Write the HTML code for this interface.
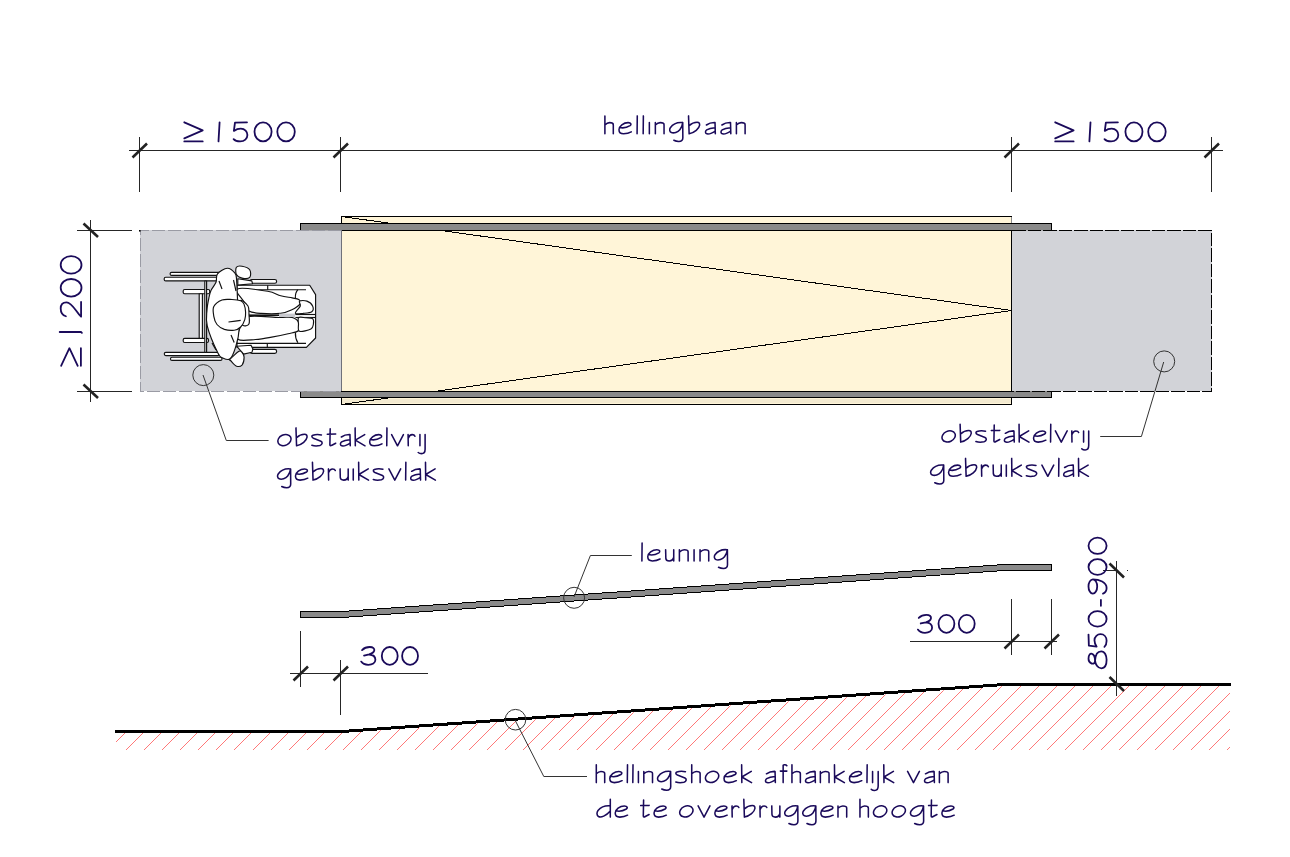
<!DOCTYPE html>
<html><head><meta charset="utf-8"><title>hellingbaan</title>
<style>
html,body{margin:0;padding:0;background:#fff;width:1290px;height:857px;overflow:hidden}
svg{display:block}
</style></head>
<body>
<svg width="1290" height="857" viewBox="0 0 1290 857">
<defs>
<clipPath id="hclip"><polygon points="116,733 342,733 1004,686 1230,686 1230,750 116,750"/></clipPath>
</defs>

<!-- ===== TOP DIMENSIONS ===== -->
<g stroke="#262626" stroke-width="1" fill="none" shape-rendering="crispEdges">
  <line x1="129" y1="150.5" x2="1223" y2="150.5"/>
  <line x1="139.5" y1="137" x2="139.5" y2="192"/>
  <line x1="340.5" y1="137" x2="340.5" y2="192"/>
  <line x1="1011.5" y1="137" x2="1011.5" y2="192"/>
  <line x1="1211.5" y1="137" x2="1211.5" y2="192"/>
</g>
<g stroke="#222" stroke-width="2.6" fill="none">
  <line x1="132.5" y1="157.5" x2="147" y2="143.5"/>
  <line x1="333.5" y1="157.5" x2="348" y2="143.5"/>
  <line x1="1004.5" y1="157.5" x2="1019" y2="143.5"/>
  <line x1="1204.5" y1="157.5" x2="1219" y2="143.5"/>
</g>

<!-- ===== LEFT VERTICAL DIMENSION ===== -->
<g stroke="#262626" stroke-width="1" fill="none" shape-rendering="crispEdges">
  <line x1="90.5" y1="220" x2="90.5" y2="402"/>
  <line x1="77" y1="230.5" x2="132" y2="230.5"/>
  <line x1="77" y1="391.5" x2="132" y2="391.5"/>
</g>
<g stroke="#222" stroke-width="2.6" fill="none">
  <line x1="83.5" y1="223.5" x2="98" y2="237"/>
  <line x1="83.5" y1="384.5" x2="98" y2="398"/>
</g>

<!-- ===== GREY AREAS + RAMP ===== -->
<rect x="341" y="216" width="671" height="189" fill="#fff5d8"/>
<rect x="342" y="399" width="669" height="4" fill="#f3ead0"/>
<rect x="140" y="230" width="201" height="161" fill="#d2d3d8"/>
<rect x="1012" y="230" width="200" height="161" fill="#d2d3d8"/>
<polyline points="341.5,216.5 1011.5,310.5 341.5,404.5" fill="none" stroke="#000" stroke-width="1" shape-rendering="crispEdges"/>
<rect x="300" y="223" width="752" height="7.5" fill="#8a8a8a"/>
<rect x="300" y="391" width="752" height="7" fill="#8a8a8a"/>
<g fill="none" stroke="#000" stroke-width="1" shape-rendering="crispEdges">
  <path d="M341.5,223 V216.5 H1011.5"/>
  <path d="M1011.5,230 V391.5 M1011.5,397 V404.5 H341.5 V397"/>
  <line x1="1011.5" y1="217" x2="1011.5" y2="223" stroke="#8a8a8a"/>
  <path d="M300.5,230 V223.5 H1051.5 V230"/>
  <path d="M300.5,391 V397.5 H1051.5 V391"/>
  <line x1="341" y1="230.5" x2="1011" y2="230.5"/>
  <line x1="341" y1="391.5" x2="1011" y2="391.5"/>
</g>
<line x1="341.5" y1="230" x2="341.5" y2="391" stroke="#70717a" stroke-width="1" shape-rendering="crispEdges"/>
<g fill="none" stroke="#9a9ba4" stroke-width="1" stroke-dasharray="13 3" shape-rendering="crispEdges">
  <path d="M341,230.5 H140.5 V391.5 H341"/>
</g>
<g fill="none" stroke="#000" stroke-width="1" stroke-dasharray="13.5 2" shape-rendering="crispEdges">
  <path d="M1012,230.5 H1211.5 V391.5 H1012"/>
</g>
<rect x="139" y="230" width="1.6" height="1.6" fill="#000"/>

<!-- ===== WHEELCHAIR ===== -->
<g id="wc" fill="#fff" stroke="#111" stroke-width="1.15" stroke-linejoin="round">
<rect x="170.1" y="272.3" width="51.9" height="3.1" rx="1.5"/>
<rect x="164.2" y="277.2" width="55.8" height="3.7" rx="1.5"/>
<rect x="183.2" y="289.5" width="26.5" height="4.2" rx="1.5"/>
<rect x="183.2" y="338.4" width="25.3" height="4.1" rx="1.5"/>
<rect x="164.3" y="352.3" width="55.2" height="3.3" rx="1.5"/>
<rect x="170.5" y="357.2" width="51.5" height="3.2" rx="1.5"/>
<rect x="199.2" y="293.7" width="3.2" height="44.7"/>
<rect x="204.8" y="281" width="1.8" height="71.3"/>
<rect x="250" y="279.5" width="26.6" height="3.7" rx="1.8"/>
<rect x="250" y="349.4" width="26.6" height="4" rx="1.8"/>
<polygon points="237,285.2 309.7,285.2 315.6,294.6 315.6,338 306.4,347.3 237,347.3"/>
<g fill="none"><line x1="237" y1="289.7" x2="306" y2="289.7"/><line x1="267.7" y1="285.2" x2="267.7" y2="289.7"/><line x1="237" y1="343.4" x2="306" y2="343.4"/><line x1="267.3" y1="343.4" x2="267.3" y2="347.3"/><line x1="295.4" y1="314.5" x2="315.6" y2="314.5"/><line x1="295.4" y1="317.5" x2="315.6" y2="317.5"/><path d="M297.9,289.7 Q295,293 295.4,298"/><path d="M295.4,332.2 Q295,338 297.9,342.8"/></g>
<path d="M237.5,288.9 C241.4,287.1 260.5,290.1 267.7,291.3 C274.9,292.5 276.6,294.7 280.7,295.8 C284.8,296.9 289.2,297.3 292.2,297.9 C295.2,298.5 297.3,298.6 298.7,299.5 C300.1,300.4 301.5,301.8 300.3,303.6 C299.1,305.4 294.6,308.5 291.3,310.1 C288.0,311.7 285.7,312.8 280.7,313.4 C275.7,313.9 266.4,313.8 261.1,313.4 C255.8,313.0 251.8,312.8 248.9,310.9 C246.1,309.0 245.9,305.7 244.0,302.0 C242.1,298.3 233.6,290.7 237.5,288.9 Z"/>
<path d="M248.0,316.6 C254.5,314.9 271.6,317.4 279.0,317.5 C286.4,317.6 288.9,316.7 292.2,317.5 C295.5,318.3 297.6,320.2 298.7,322.4 C299.8,324.6 300.5,328.6 298.7,330.5 C296.9,332.4 292.6,332.7 288.1,333.8 C283.6,334.9 277.1,336.2 271.7,337.1 C266.2,338.1 261.0,339.1 255.4,339.5 C249.8,339.9 240.9,341.4 238.3,339.5 C235.7,337.6 238.4,331.8 240.0,328.0 C241.6,324.2 241.5,318.4 248.0,316.6 Z"/>
<path d="M299.5,301.1 C300.6,300.3 304.7,300.3 306.9,301.1 C309.1,301.9 311.8,304.2 312.6,306.0 C313.4,307.8 313.4,310.5 311.8,311.7 C310.2,312.9 305.7,313.1 303.0,313.4 C300.3,313.6 295.8,314.4 295.4,313.2 C294.9,312.0 299.6,308.0 300.3,306.0 C301.0,304.0 298.4,301.9 299.5,301.1 Z"/>
<path d="M298.7,317.5 C299.9,316.5 303.7,317.6 306.0,317.8 C308.3,318.0 311.4,317.6 312.6,318.6 C313.8,319.6 313.7,322.3 313.4,324.0 C313.1,325.7 313.2,327.7 310.9,328.9 C308.6,330.1 301.6,332.1 299.5,331.3 C297.4,330.5 298.6,326.3 298.5,324.0 C298.4,321.7 297.4,318.5 298.7,317.5 Z"/>
<line x1="249" y1="315.2" x2="279" y2="315.2" stroke-width="1.6"/>
<rect x="279" y="313.6" width="16" height="3.4" fill="#c8c9ce" stroke="none"/>
<path d="M227.3,268.3 C230.2,268.2 233.4,271.2 235.0,273.2 C236.6,275.2 236.2,275.9 236.6,280.2 C237.0,284.5 237.1,290.8 237.5,299.0 C237.9,307.2 239.4,321.3 239.1,329.4 C238.8,337.5 237.0,342.5 235.5,347.4 C234.0,352.3 232.2,357.0 230.1,358.8 C228.0,360.6 224.8,358.9 222.8,358.0 C220.8,357.1 220.5,358.4 217.9,353.1 C215.3,347.8 209.1,333.3 207.3,326.1 C205.5,318.9 206.7,314.9 207.0,310.0 C207.3,305.1 208.4,300.3 209.1,297.0 C209.8,293.7 210.0,292.4 211.2,290.0 C212.3,287.6 214.9,285.0 216.0,282.3 C217.1,279.6 215.6,276.2 217.5,273.9 C219.4,271.6 224.4,268.4 227.3,268.3 Z"/>
<g fill="none"><path d="M219,281 L222,289"/><path d="M233.5,280 L236,291"/><path d="M231,335 L234.2,342.5"/><path d="M212,343 L216,350"/></g>
<path d="M237.8,278.8 L251.8,280.9 L252.5,283.7 L237.8,285.1 Z"/>
<path d="M236.4,267.3 C237.3,265.9 239.8,265.8 242.0,266.2 C244.2,266.6 248.4,267.8 249.7,269.7 C251.0,271.6 251.0,276.0 249.7,277.4 C248.4,278.8 244.2,278.6 242.0,278.1 C239.8,277.6 237.3,276.4 236.4,274.6 C235.5,272.8 235.5,268.7 236.4,267.3 Z"/>
<path d="M236.6,346.2 L251.0,345.2 L252.9,349.0 L252.0,352.2 L243.6,354.1 Z"/>
<path d="M230.1,359.2 C231.4,357.6 237.0,352.4 239.0,351.3 C241.0,350.2 241.3,351.7 242.2,352.7 C243.0,353.7 244.1,355.3 244.1,357.3 C244.1,359.3 243.4,363.3 242.2,364.8 C240.9,366.3 238.5,366.8 236.6,366.2 C234.7,365.6 232.1,362.2 231.0,361.0 C229.9,359.8 228.8,360.8 230.1,359.2 Z"/>
<path d="M240.0,301.0 C241.3,298.7 246.5,303.7 248.0,306.0 C249.5,308.3 248.8,312.0 249.0,315.0 C249.2,318.0 249.9,322.2 248.9,324.0 C247.9,325.8 244.7,326.3 243.2,325.6 C241.7,324.9 240.5,324.1 240.0,320.0 C239.5,315.9 238.7,303.3 240.0,301.0 Z"/>
<path d="M222.0,300.0 C219.0,301.2 215.2,303.8 213.8,306.5 C212.4,309.2 213.3,313.3 213.8,316.3 C214.3,319.3 215.2,322.3 217.0,324.5 C218.8,326.7 221.5,328.4 224.4,329.4 C227.3,330.3 231.5,330.6 234.2,330.2 C236.9,329.8 238.9,328.8 240.7,327.0 C242.5,325.2 244.0,322.1 244.8,319.6 C245.6,317.2 245.7,314.9 245.6,312.3 C245.5,309.7 244.8,306.0 244.0,304.1 C243.2,302.2 242.7,301.6 240.7,300.8 C238.7,300.0 235.1,299.6 232.0,299.5 C228.9,299.4 225.0,298.8 222.0,300.0 Z"/>
<path d="M228.5,322 C233,321.5 237,321 240.7,320.4" fill="none"/>
</g>

<!-- circles & leaders top -->
<g stroke="#333" stroke-width="1" fill="none">
  <circle cx="203.3" cy="375.1" r="10.5"/>
  <polyline points="203,375 226.3,440.5 268.6,440.5"/>
  <circle cx="1164.2" cy="361.4" r="10.5"/>
  <polyline points="1163.7,362 1141.4,436.5 1100.2,436.5"/>
</g>

<!-- ===== SECTION ===== -->
<!-- hatch -->
<g clip-path="url(#hclip)" stroke="#ff7878" stroke-width="1" shape-rendering="crispEdges"><line x1="36" y1="750" x2="116" y2="670"/><line x1="54" y1="750" x2="134" y2="670"/><line x1="72" y1="750" x2="152" y2="670"/><line x1="90" y1="750" x2="170" y2="670"/><line x1="108" y1="750" x2="188" y2="670"/><line x1="126" y1="750" x2="206" y2="670"/><line x1="144" y1="750" x2="224" y2="670"/><line x1="162" y1="750" x2="242" y2="670"/><line x1="180" y1="750" x2="260" y2="670"/><line x1="198" y1="750" x2="278" y2="670"/><line x1="216" y1="750" x2="296" y2="670"/><line x1="234" y1="750" x2="314" y2="670"/><line x1="253" y1="750" x2="333" y2="670"/><line x1="271" y1="750" x2="351" y2="670"/><line x1="289" y1="750" x2="369" y2="670"/><line x1="307" y1="750" x2="387" y2="670"/><line x1="325" y1="750" x2="405" y2="670"/><line x1="343" y1="750" x2="423" y2="670"/><line x1="361" y1="750" x2="441" y2="670"/><line x1="379" y1="750" x2="459" y2="670"/><line x1="397" y1="750" x2="477" y2="670"/><line x1="415" y1="750" x2="495" y2="670"/><line x1="433" y1="750" x2="513" y2="670"/><line x1="451" y1="750" x2="531" y2="670"/><line x1="469" y1="750" x2="549" y2="670"/><line x1="487" y1="750" x2="567" y2="670"/><line x1="505" y1="750" x2="585" y2="670"/><line x1="523" y1="750" x2="603" y2="670"/><line x1="541" y1="750" x2="621" y2="670"/><line x1="559" y1="750" x2="639" y2="670"/><line x1="577" y1="750" x2="657" y2="670"/><line x1="596" y1="750" x2="676" y2="670"/><line x1="614" y1="750" x2="694" y2="670"/><line x1="632" y1="750" x2="712" y2="670"/><line x1="650" y1="750" x2="730" y2="670"/><line x1="668" y1="750" x2="748" y2="670"/><line x1="686" y1="750" x2="766" y2="670"/><line x1="704" y1="750" x2="784" y2="670"/><line x1="722" y1="750" x2="802" y2="670"/><line x1="740" y1="750" x2="820" y2="670"/><line x1="758" y1="750" x2="838" y2="670"/><line x1="776" y1="750" x2="856" y2="670"/><line x1="794" y1="750" x2="874" y2="670"/><line x1="812" y1="750" x2="892" y2="670"/><line x1="830" y1="750" x2="910" y2="670"/><line x1="848" y1="750" x2="928" y2="670"/><line x1="866" y1="750" x2="946" y2="670"/><line x1="884" y1="750" x2="964" y2="670"/><line x1="902" y1="750" x2="982" y2="670"/><line x1="920" y1="750" x2="1000" y2="670"/><line x1="938" y1="750" x2="1018" y2="670"/><line x1="957" y1="750" x2="1037" y2="670"/><line x1="975" y1="750" x2="1055" y2="670"/><line x1="993" y1="750" x2="1073" y2="670"/><line x1="1011" y1="750" x2="1091" y2="670"/><line x1="1029" y1="750" x2="1109" y2="670"/><line x1="1047" y1="750" x2="1127" y2="670"/><line x1="1065" y1="750" x2="1145" y2="670"/><line x1="1083" y1="750" x2="1163" y2="670"/><line x1="1101" y1="750" x2="1181" y2="670"/><line x1="1119" y1="750" x2="1199" y2="670"/><line x1="1137" y1="750" x2="1217" y2="670"/><line x1="1155" y1="750" x2="1235" y2="670"/><line x1="1173" y1="750" x2="1253" y2="670"/><line x1="1191" y1="750" x2="1271" y2="670"/><line x1="1209" y1="750" x2="1289" y2="670"/><line x1="1227" y1="750" x2="1307" y2="670"/><line x1="1245" y1="750" x2="1325" y2="670"/><line x1="1263" y1="750" x2="1343" y2="670"/></g>
<!-- ground -->
<polyline points="115,731.5 342,731.5 1004,684.5 1230.5,684.5" fill="none" stroke="#000" stroke-width="3" shape-rendering="crispEdges"/>
<!-- handrail profile -->
<polygon points="300.5,611.5 342,611.5 1004,564.5 1051.5,564.5 1051.5,570.5 1004,570.5 342,617.5 300.5,617.5" fill="#8a8a8a" stroke="#000" stroke-width="1" shape-rendering="crispEdges"/>

<!-- 300 left -->
<g stroke="#262626" stroke-width="1" fill="none" shape-rendering="crispEdges">
  <line x1="290" y1="673.5" x2="428" y2="673.5"/>
  <line x1="300.5" y1="631" x2="300.5" y2="687"/>
  <line x1="340.5" y1="660" x2="340.5" y2="715"/>
  <line x1="910" y1="641.5" x2="1057" y2="641.5"/>
  <line x1="1011.5" y1="599" x2="1011.5" y2="655"/>
  <line x1="1051.5" y1="599" x2="1051.5" y2="655"/>
  <line x1="1116.5" y1="561" x2="1116.5" y2="696"/>
  <line x1="1103" y1="570.5" x2="1117" y2="570.5"/><line x1="1127" y1="570.5" x2="1128" y2="570.5"/>
</g>
<g stroke="#222" stroke-width="2.6" fill="none">
  <line x1="293.5" y1="680.5" x2="308" y2="666.5"/>
  <line x1="333.5" y1="680.5" x2="348" y2="666.5"/>
  <line x1="1004.5" y1="648.5" x2="1019" y2="634.5"/>
  <line x1="1044.5" y1="648.5" x2="1059" y2="634.5"/>
  <line x1="1109.5" y1="563.5" x2="1124" y2="577.5"/>
  <line x1="1109.5" y1="677" x2="1124" y2="691"/>
</g>

<!-- circles & leaders section -->
<g stroke="#333" stroke-width="1" fill="none">
  <circle cx="574.1" cy="597.8" r="10.5"/>
  <polyline points="574,597 590.4,555.5 631.8,555.5"/>
  <circle cx="515.5" cy="719.7" r="10.3"/>
  <polyline points="515,720 543.8,776.5 587,776.5"/>
</g>
<g id="lower" fill="none" stroke="#1a0a5a" stroke-width="1.55" stroke-linecap="round" stroke-linejoin="round">
<path d="M604.90,115.90 L604.90,133.80 M604.90,125.00 C606.50,123.40 608.00,122.60 609.50,122.60 C611.50,122.60 613.30,122.90 613.30,124.70 L613.30,133.80 M619.59,127.50 C622.09,128.10 627.09,127.50 630.09,125.70 C631.59,124.70 631.29,122.60 628.09,122.60 C623.59,122.60 618.99,126.20 618.99,129.70 C618.99,132.70 620.59,133.80 623.59,133.80 C626.59,133.80 629.59,132.90 631.29,131.90 M637.28,115.90 L637.08,133.80 M643.37,115.90 L643.17,133.80 M649.36,122.60 L649.36,133.80 M655.35,122.60 L655.35,133.80 M655.35,125.00 C656.95,123.40 658.45,122.60 660.15,122.60 C662.25,122.60 664.05,122.90 664.05,124.70 L664.05,133.80 M682.34,122.60 C677.84,122.20 672.84,124.20 670.34,127.70 C669.34,129.20 669.34,131.70 671.34,132.50 C673.84,133.50 677.84,132.20 679.84,129.70 C681.34,127.90 682.34,125.70 682.74,122.60 L682.84,137.70 C682.84,140.20 681.34,141.40 678.84,141.40 C676.84,141.40 675.34,141.00 673.84,140.20 M688.53,115.90 L689.13,133.80 M689.13,125.70 C691.13,123.70 694.13,122.20 697.13,122.20 C699.13,122.20 699.73,123.20 699.63,125.20 C699.13,128.70 694.63,132.70 689.13,133.80 M706.42,125.00 C708.52,123.50 711.52,122.50 715.02,122.60 L715.32,133.80 M715.02,127.70 C711.52,127.90 708.52,128.70 706.72,129.90 C705.42,130.80 705.12,132.50 706.02,133.40 C707.02,134.20 709.52,134.00 711.52,133.10 C713.02,132.40 714.32,131.70 715.12,131.10 M721.91,125.00 C724.01,123.50 727.01,122.50 730.51,122.60 L730.81,133.80 M730.51,127.70 C727.01,127.90 724.01,128.70 722.21,129.90 C720.91,130.80 720.61,132.50 721.51,133.40 C722.51,134.20 725.01,134.00 727.01,133.10 C728.51,132.40 729.81,131.70 730.61,131.10 M736.40,122.60 L736.40,133.80 M736.40,125.00 C738.00,123.40 739.50,122.60 741.20,122.60 C743.30,122.60 745.10,122.90 745.10,124.70 L745.10,133.80"/>
<path d="M290.70,437.18 C291.94,439.84 290.14,443.29 286.69,444.90 C283.24,446.51 279.43,445.67 278.20,443.02 C276.96,440.36 278.76,436.91 282.21,435.30 C285.66,433.69 289.47,434.53 290.70,437.18 M295.96,427.90 L296.56,445.80 M296.56,437.70 C298.56,435.70 301.56,434.20 304.56,434.20 C306.56,434.20 307.16,435.20 307.06,437.20 C306.56,440.70 302.06,444.70 296.56,445.80 M321.43,434.90 C318.93,434.40 314.93,434.50 312.93,435.20 C311.43,435.70 311.43,437.20 313.43,438.20 L320.93,441.20 C322.93,442.20 322.43,444.70 319.93,445.50 C317.43,446.10 313.93,446.00 311.83,445.20 M330.19,428.70 L329.89,444.70 C329.89,445.90 330.89,445.80 331.89,445.20 L335.69,443.20 M327.29,434.30 L335.69,434.10 M341.35,437.00 C343.45,435.50 346.45,434.50 349.95,434.60 L350.25,445.80 M349.95,439.70 C346.45,439.90 343.45,440.70 341.65,441.90 C340.35,442.80 340.05,444.50 340.95,445.40 C341.95,446.20 344.45,446.00 346.45,445.10 C347.95,444.40 349.25,443.70 350.05,443.10 M355.12,427.90 L355.32,445.80 M364.72,434.60 L355.32,440.20 L365.02,445.80 M370.28,439.50 C372.78,440.10 377.78,439.50 380.78,437.70 C382.28,436.70 381.98,434.60 378.78,434.60 C374.28,434.60 369.68,438.20 369.68,441.70 C369.68,444.70 371.28,445.80 374.28,445.80 C377.28,445.80 380.28,444.90 381.98,443.90 M386.95,427.90 L386.75,445.80 M391.61,434.60 L397.51,445.80 L403.41,434.60 M408.07,434.60 L408.27,445.80 M408.27,438.20 C409.17,435.70 410.67,434.60 412.17,434.60 C413.67,434.60 414.57,435.20 414.97,436.20 M419.94,434.60 L419.94,445.80 M425.10,434.60 L425.10,449.20 C425.10,452.20 424.00,453.60 421.50,453.60 C420.00,453.60 419.00,453.20 418.20,452.50"/>
<path d="M290.20,468.90 C285.70,468.50 280.70,470.50 278.20,474.00 C277.20,475.50 277.20,478.00 279.20,478.80 C281.70,479.80 285.70,478.50 287.70,476.00 C289.20,474.20 290.20,472.00 290.60,468.90 L290.70,484.00 C290.70,486.50 289.20,487.70 286.70,487.70 C284.70,487.70 283.20,487.30 281.70,486.50 M296.07,473.80 C298.57,474.40 303.57,473.80 306.57,472.00 C308.07,471.00 307.77,468.90 304.57,468.90 C300.07,468.90 295.47,472.50 295.47,476.00 C295.47,479.00 297.07,480.10 300.07,480.10 C303.07,480.10 306.07,479.20 307.77,478.20 M312.45,462.20 L313.05,480.10 M313.05,472.00 C315.05,470.00 318.05,468.50 321.05,468.50 C323.05,468.50 323.65,469.50 323.55,471.50 C323.05,475.00 318.55,479.00 313.05,480.10 M328.42,468.90 L328.62,480.10 M328.62,472.50 C329.52,470.00 331.02,468.90 332.52,468.90 C334.02,468.90 334.92,469.50 335.32,470.50 M340.09,468.90 L340.29,477.50 C340.49,479.50 341.69,480.10 343.69,480.10 C346.19,480.10 347.69,478.50 348.19,476.50 M348.19,468.90 L348.19,480.10 M353.26,468.90 L353.26,480.10 M358.64,462.20 L358.84,480.10 M368.24,468.90 L358.84,474.50 L368.54,480.10 M382.91,469.20 C380.41,468.70 376.41,468.80 374.41,469.50 C372.91,470.00 372.91,471.50 374.91,472.50 L382.41,475.50 C384.41,476.50 383.91,479.00 381.41,479.80 C378.91,480.40 375.41,480.30 373.31,479.50 M388.88,468.90 L394.78,480.10 L400.68,468.90 M405.85,462.20 L405.65,480.10 M411.63,471.30 C413.73,469.80 416.73,468.80 420.23,468.90 L420.53,480.10 M420.23,474.00 C416.73,474.20 413.73,475.00 411.93,476.20 C410.63,477.10 410.33,478.80 411.23,479.70 C412.23,480.50 414.73,480.30 416.73,479.40 C418.23,478.70 419.53,478.00 420.33,477.40 M425.50,462.20 L425.70,480.10 M435.10,468.90 L425.70,474.50 L435.40,480.10"/>
<path d="M954.90,433.48 C956.14,436.14 954.34,439.59 950.89,441.20 C947.44,442.81 943.63,441.97 942.40,439.32 C941.16,436.66 942.96,433.21 946.41,431.60 C949.86,429.99 953.67,430.83 954.90,433.48 M960.11,424.20 L960.71,442.10 M960.71,434.00 C962.71,432.00 965.71,430.50 968.71,430.50 C970.71,430.50 971.31,431.50 971.21,433.50 C970.71,437.00 966.21,441.00 960.71,442.10 M985.52,431.20 C983.02,430.70 979.02,430.80 977.02,431.50 C975.52,432.00 975.52,433.50 977.52,434.50 L985.02,437.50 C987.02,438.50 986.52,441.00 984.02,441.80 C981.52,442.40 978.02,442.30 975.92,441.50 M994.23,425.00 L993.93,441.00 C993.93,442.20 994.93,442.10 995.93,441.50 L999.73,439.50 M991.33,430.60 L999.73,430.40 M1005.34,433.30 C1007.44,431.80 1010.44,430.80 1013.94,430.90 L1014.24,442.10 M1013.94,436.00 C1010.44,436.20 1007.44,437.00 1005.64,438.20 C1004.34,439.10 1004.04,440.80 1004.94,441.70 C1005.94,442.50 1008.44,442.30 1010.44,441.40 C1011.94,440.70 1013.24,440.00 1014.04,439.40 M1019.05,424.20 L1019.25,442.10 M1028.65,430.90 L1019.25,436.50 L1028.95,442.10 M1034.15,435.80 C1036.65,436.40 1041.65,435.80 1044.65,434.00 C1046.15,433.00 1045.85,430.90 1042.65,430.90 C1038.15,430.90 1033.55,434.50 1033.55,438.00 C1033.55,441.00 1035.15,442.10 1038.15,442.10 C1041.15,442.10 1044.15,441.20 1045.85,440.20 M1050.76,424.20 L1050.56,442.10 M1055.37,430.90 L1061.27,442.10 L1067.17,430.90 M1071.78,430.90 L1071.98,442.10 M1071.98,434.50 C1072.88,432.00 1074.38,430.90 1075.88,430.90 C1077.38,430.90 1078.28,431.50 1078.68,432.50 M1083.59,430.90 L1083.59,442.10 M1088.70,430.90 L1088.70,445.50 C1088.70,448.50 1087.60,449.90 1085.10,449.90 C1083.60,449.90 1082.60,449.50 1081.80,448.80"/>
<path d="M943.30,465.10 C938.80,464.70 933.80,466.70 931.30,470.20 C930.30,471.70 930.30,474.20 932.30,475.00 C934.80,476.00 938.80,474.70 940.80,472.20 C942.30,470.40 943.30,468.20 943.70,465.10 L943.80,480.20 C943.80,482.70 942.30,483.90 939.80,483.90 C937.80,483.90 936.30,483.50 934.80,482.70 M949.16,470.00 C951.66,470.60 956.66,470.00 959.66,468.20 C961.16,467.20 960.86,465.10 957.66,465.10 C953.16,465.10 948.56,468.70 948.56,472.20 C948.56,475.20 950.16,476.30 953.16,476.30 C956.16,476.30 959.16,475.40 960.86,474.40 M965.53,458.40 L966.13,476.30 M966.13,468.20 C968.13,466.20 971.13,464.70 974.13,464.70 C976.13,464.70 976.73,465.70 976.63,467.70 C976.13,471.20 971.63,475.20 966.13,476.30 M981.49,465.10 L981.69,476.30 M981.69,468.70 C982.59,466.20 984.09,465.10 985.59,465.10 C987.09,465.10 987.99,465.70 988.39,466.70 M993.15,465.10 L993.35,473.70 C993.55,475.70 994.75,476.30 996.75,476.30 C999.25,476.30 1000.75,474.70 1001.25,472.70 M1001.25,465.10 L1001.25,476.30 M1006.32,465.10 L1006.32,476.30 M1011.68,458.40 L1011.88,476.30 M1021.28,465.10 L1011.88,470.70 L1021.58,476.30 M1035.95,465.40 C1033.45,464.90 1029.45,465.00 1027.45,465.70 C1025.95,466.20 1025.95,467.70 1027.95,468.70 L1035.45,471.70 C1037.45,472.70 1036.95,475.20 1034.45,476.00 C1031.95,476.60 1028.45,476.50 1026.35,475.70 M1041.91,465.10 L1047.81,476.30 L1053.71,465.10 M1058.87,458.40 L1058.67,476.30 M1064.64,467.50 C1066.74,466.00 1069.74,465.00 1073.24,465.10 L1073.54,476.30 M1073.24,470.20 C1069.74,470.40 1066.74,471.20 1064.94,472.40 C1063.64,473.30 1063.34,475.00 1064.24,475.90 C1065.24,476.70 1067.74,476.50 1069.74,475.60 C1071.24,474.90 1072.54,474.20 1073.34,473.60 M1078.50,458.40 L1078.70,476.30 M1088.10,465.10 L1078.70,470.70 L1088.40,476.30"/>
<path d="M642.10,543.00 L641.90,560.90 M648.37,554.60 C650.87,555.20 655.87,554.60 658.87,552.80 C660.37,551.80 660.07,549.70 656.87,549.70 C652.37,549.70 647.77,553.30 647.77,556.80 C647.77,559.80 649.37,560.90 652.37,560.90 C655.37,560.90 658.37,560.00 660.07,559.00 M665.63,549.70 L665.83,558.30 C666.03,560.30 667.23,560.90 669.23,560.90 C671.73,560.90 673.23,559.30 673.73,557.30 M673.73,549.70 L673.73,560.90 M679.40,549.70 L679.40,560.90 M679.40,552.10 C681.00,550.50 682.50,549.70 684.20,549.70 C686.30,549.70 688.10,550.00 688.10,551.80 L688.10,560.90 M694.07,549.70 L694.07,560.90 M700.03,549.70 L700.03,560.90 M700.03,552.10 C701.63,550.50 703.13,549.70 704.83,549.70 C706.93,549.70 708.73,550.00 708.73,551.80 L708.73,560.90 M727.00,549.70 C722.50,549.30 717.50,551.30 715.00,554.80 C714.00,556.30 714.00,558.80 716.00,559.60 C718.50,560.60 722.50,559.30 724.50,556.80 C726.00,555.00 727.00,552.80 727.40,549.70 L727.50,564.80 C727.50,567.30 726.00,568.50 723.50,568.50 C721.50,568.50 720.00,568.10 718.50,567.30"/>
<path d="M596.30,764.70 L596.30,782.60 M596.30,773.80 C597.90,772.20 599.40,771.40 600.90,771.40 C602.90,771.40 604.70,771.70 604.70,773.50 L604.70,782.60 M610.40,776.30 C612.90,776.90 617.90,776.30 620.90,774.50 C622.40,773.50 622.10,771.40 618.90,771.40 C614.40,771.40 609.80,775.00 609.80,778.50 C609.80,781.50 611.40,782.60 614.40,782.60 C617.40,782.60 620.40,781.70 622.10,780.70 M627.51,764.70 L627.31,782.60 M633.01,764.70 L632.81,782.60 M638.41,771.40 L638.41,782.60 M643.82,771.40 L643.82,782.60 M643.82,773.80 C645.42,772.20 646.92,771.40 648.62,771.40 C650.72,771.40 652.52,771.70 652.52,773.50 L652.52,782.60 M670.22,771.40 C665.72,771.00 660.72,773.00 658.22,776.50 C657.22,778.00 657.22,780.50 659.22,781.30 C661.72,782.30 665.72,781.00 667.72,778.50 C669.22,776.70 670.22,774.50 670.62,771.40 L670.72,786.50 C670.72,789.00 669.22,790.20 666.72,790.20 C664.72,790.20 663.22,789.80 661.72,789.00 M685.42,771.70 C682.92,771.20 678.92,771.30 676.92,772.00 C675.42,772.50 675.42,774.00 677.42,775.00 L684.92,778.00 C686.92,779.00 686.42,781.50 683.92,782.30 C681.42,782.90 677.92,782.80 675.82,782.00 M691.73,764.70 L691.73,782.60 M691.73,773.80 C693.33,772.20 694.83,771.40 696.33,771.40 C698.33,771.40 700.13,771.70 700.13,773.50 L700.13,782.60 M718.33,773.98 C719.57,776.64 717.77,780.09 714.32,781.70 C710.87,783.31 707.06,782.47 705.83,779.82 C704.59,777.16 706.39,773.71 709.84,772.10 C713.29,770.49 717.10,771.33 718.33,773.98 M724.63,776.30 C727.13,776.90 732.13,776.30 735.13,774.50 C736.63,773.50 736.33,771.40 733.13,771.40 C728.63,771.40 724.03,775.00 724.03,778.50 C724.03,781.50 725.63,782.60 728.63,782.60 C731.63,782.60 734.63,781.70 736.33,780.70 M741.64,764.70 L741.84,782.60 M751.24,771.40 L741.84,777.00 L751.54,782.60 M766.45,773.80 C768.55,772.30 771.55,771.30 775.05,771.40 L775.35,782.60 M775.05,776.50 C771.55,776.70 768.55,777.50 766.75,778.70 C765.45,779.60 765.15,781.30 766.05,782.20 C767.05,783.00 769.55,782.80 771.55,781.90 C773.05,781.20 774.35,780.50 775.15,779.90 M783.15,782.60 L783.15,765.30 C783.75,764.50 785.95,764.50 786.85,765.70 M780.35,771.10 L786.85,771.10 M791.95,764.70 L791.95,782.60 M791.95,773.80 C793.55,772.20 795.05,771.40 796.55,771.40 C798.55,771.40 800.35,771.70 800.35,773.50 L800.35,782.60 M806.46,773.80 C808.56,772.30 811.56,771.30 815.06,771.40 L815.36,782.60 M815.06,776.50 C811.56,776.70 808.56,777.50 806.76,778.70 C805.46,779.60 805.16,781.30 806.06,782.20 C807.06,783.00 809.56,782.80 811.56,781.90 C813.06,781.20 814.36,780.50 815.16,779.90 M820.36,771.40 L820.36,782.60 M820.36,773.80 C821.96,772.20 823.46,771.40 825.16,771.40 C827.26,771.40 829.06,771.70 829.06,773.50 L829.06,782.60 M834.46,764.70 L834.66,782.60 M844.06,771.40 L834.66,777.00 L844.36,782.60 M850.07,776.30 C852.57,776.90 857.57,776.30 860.57,774.50 C862.07,773.50 861.77,771.40 858.57,771.40 C854.07,771.40 849.47,775.00 849.47,778.50 C849.47,781.50 851.07,782.60 854.07,782.60 C857.07,782.60 860.07,781.70 861.77,780.70 M867.17,764.70 L866.97,782.60 M872.57,771.40 L872.57,782.60 M878.18,771.40 L878.18,786.00 C878.18,789.00 877.08,790.40 874.58,790.40 C873.08,790.40 872.08,790.00 871.28,789.30 M883.78,764.70 L883.98,782.60 M893.38,771.40 L883.98,777.00 L893.68,782.60 M907.59,771.40 L913.49,782.60 L919.39,771.40 M925.50,773.80 C927.60,772.30 930.60,771.30 934.10,771.40 L934.40,782.60 M934.10,776.50 C930.60,776.70 927.60,777.50 925.80,778.70 C924.50,779.60 924.20,781.30 925.10,782.20 C926.10,783.00 928.60,782.80 930.60,781.90 C932.10,781.20 933.40,780.50 934.20,779.90 M939.40,771.40 L939.40,782.60 M939.40,773.80 C941.00,772.20 942.50,771.40 944.20,771.40 C946.30,771.40 948.10,771.70 948.10,773.50 L948.10,782.60"/>
<path d="M610.30,799.20 L610.30,817.10 M610.30,805.90 C606.00,805.50 601.00,807.00 598.00,810.50 C596.50,812.50 596.70,815.50 598.50,816.50 C601.00,817.80 606.00,816.00 610.30,811.00 M615.83,810.80 C618.33,811.40 623.33,810.80 626.33,809.00 C627.83,808.00 627.53,805.90 624.33,805.90 C619.83,805.90 615.23,809.50 615.23,813.00 C615.23,816.00 616.83,817.10 619.83,817.10 C622.83,817.10 625.83,816.20 627.53,815.20 M643.60,800.00 L643.30,816.00 C643.30,817.20 644.30,817.10 645.30,816.50 L649.10,814.50 M640.70,805.60 L649.10,805.40 M654.63,810.80 C657.13,811.40 662.13,810.80 665.13,809.00 C666.63,808.00 666.33,805.90 663.13,805.90 C658.63,805.90 654.03,809.50 654.03,813.00 C654.03,816.00 655.63,817.10 658.63,817.10 C661.63,817.10 664.63,816.20 666.33,815.20 M692.60,808.48 C693.84,811.14 692.04,814.59 688.59,816.20 C685.14,817.81 681.33,816.97 680.10,814.32 C678.86,811.66 680.66,808.21 684.11,806.60 C687.56,804.99 691.37,805.83 692.60,808.48 M698.13,805.90 L704.03,817.10 L709.93,805.90 M715.46,810.80 C717.96,811.40 722.96,810.80 725.96,809.00 C727.46,808.00 727.16,805.90 723.96,805.90 C719.46,805.90 714.86,809.50 714.86,813.00 C714.86,816.00 716.46,817.10 719.46,817.10 C722.46,817.10 725.46,816.20 727.16,815.20 M731.99,805.90 L732.19,817.10 M732.19,809.50 C733.09,807.00 734.59,805.90 736.09,805.90 C737.59,805.90 738.49,806.50 738.89,807.50 M743.81,799.20 L744.41,817.10 M744.41,809.00 C746.41,807.00 749.41,805.50 752.41,805.50 C754.41,805.50 755.01,806.50 754.91,808.50 C754.41,812.00 749.91,816.00 744.41,817.10 M759.94,805.90 L760.14,817.10 M760.14,809.50 C761.04,807.00 762.54,805.90 764.04,805.90 C765.54,805.90 766.44,806.50 766.84,807.50 M771.77,805.90 L771.97,814.50 C772.17,816.50 773.37,817.10 775.37,817.10 C777.87,817.10 779.37,815.50 779.87,813.50 M779.87,805.90 L779.87,817.10 M797.40,805.90 C792.90,805.50 787.90,807.50 785.40,811.00 C784.40,812.50 784.40,815.00 786.40,815.80 C788.90,816.80 792.90,815.50 794.90,813.00 C796.40,811.20 797.40,809.00 797.80,805.90 L797.90,821.00 C797.90,823.50 796.40,824.70 793.90,824.70 C791.90,824.70 790.40,824.30 788.90,823.50 M815.43,805.90 C810.93,805.50 805.93,807.50 803.43,811.00 C802.43,812.50 802.43,815.00 804.43,815.80 C806.93,816.80 810.93,815.50 812.93,813.00 C814.43,811.20 815.43,809.00 815.83,805.90 L815.93,821.00 C815.93,823.50 814.43,824.70 811.93,824.70 C809.93,824.70 808.43,824.30 806.93,823.50 M821.46,810.80 C823.96,811.40 828.96,810.80 831.96,809.00 C833.46,808.00 833.16,805.90 829.96,805.90 C825.46,805.90 820.86,809.50 820.86,813.00 C820.86,816.00 822.46,817.10 825.46,817.10 C828.46,817.10 831.46,816.20 833.16,815.20 M837.99,805.90 L837.99,817.10 M837.99,808.30 C839.59,806.70 841.09,805.90 842.79,805.90 C844.89,805.90 846.69,806.20 846.69,808.00 L846.69,817.10 M859.96,799.20 L859.96,817.10 M859.96,808.30 C861.56,806.70 863.06,805.90 864.56,805.90 C866.56,805.90 868.36,806.20 868.36,808.00 L868.36,817.10 M886.39,808.48 C887.63,811.14 885.83,814.59 882.38,816.20 C878.93,817.81 875.12,816.97 873.89,814.32 C872.65,811.66 874.45,808.21 877.90,806.60 C881.35,804.99 885.16,805.83 886.39,808.48 M905.01,808.48 C906.25,811.14 904.45,814.59 901.00,816.20 C897.55,817.81 893.74,816.97 892.51,814.32 C891.27,811.66 893.07,808.21 896.52,806.60 C899.97,804.99 903.78,805.83 905.01,808.48 M923.14,805.90 C918.64,805.50 913.64,807.50 911.14,811.00 C910.14,812.50 910.14,815.00 912.14,815.80 C914.64,816.80 918.64,815.50 920.64,813.00 C922.14,811.20 923.14,809.00 923.54,805.90 L923.64,821.00 C923.64,823.50 922.14,824.70 919.64,824.70 C917.64,824.70 916.14,824.30 914.64,823.50 M931.47,800.00 L931.17,816.00 C931.17,817.20 932.17,817.10 933.17,816.50 L936.97,814.50 M928.57,805.60 L936.97,805.40 M942.50,810.80 C945.00,811.40 950.00,810.80 953.00,809.00 C954.50,808.00 954.20,805.90 951.00,805.90 C946.50,805.90 941.90,809.50 941.90,813.00 C941.90,816.00 943.50,817.10 946.50,817.10 C949.50,817.10 952.50,816.20 954.20,815.20"/>
</g>
<g id="digits" fill="none" stroke="#1a0a5a" stroke-width="1.8" stroke-linecap="round" stroke-linejoin="round">
<path d="M 184.30,122.30 L 202.70,130.32 L 184.30,138.34 M 184.30,141.40 L 202.70,141.40"/>
<line x1="219.6" y1="122.3" x2="218.5" y2="141.4"/>
<path d="M 246.99,122.30 L 234.98,122.68 L 233.88,130.90 C 236.36,129.18 238.84,128.60 240.78,128.60 C 244.92,128.60 247.40,131.85 247.40,134.91 C 247.40,138.73 244.36,141.40 240.22,141.40 C 237.46,141.40 234.98,140.64 233.60,139.11"/>
<path d="M 271.60,131.85 C 271.60,137.20 267.84,141.40 263.05,141.40 C 258.26,141.40 254.50,137.20 254.50,131.85 C 254.50,126.50 258.26,122.30 263.05,122.30 C 267.84,122.30 271.60,126.50 271.60,131.85 Z"/>
<path d="M 294.80,131.85 C 294.80,137.20 290.95,141.40 286.05,141.40 C 281.15,141.40 277.30,137.20 277.30,131.85 C 277.30,126.50 281.15,122.30 286.05,122.30 C 290.95,122.30 294.80,126.50 294.80,131.85 Z"/>
<path d="M 1055.20,122.30 L 1073.60,130.32 L 1055.20,138.34 M 1055.20,141.40 L 1073.60,141.40"/>
<line x1="1090.5" y1="122.3" x2="1089.4" y2="141.4"/>
<path d="M 1117.89,122.30 L 1105.88,122.68 L 1104.78,130.90 C 1107.26,129.18 1109.74,128.60 1111.68,128.60 C 1115.82,128.60 1118.30,131.85 1118.30,134.91 C 1118.30,138.73 1115.26,141.40 1111.12,141.40 C 1108.36,141.40 1105.88,140.64 1104.50,139.11"/>
<path d="M 1142.50,131.85 C 1142.50,137.20 1138.74,141.40 1133.95,141.40 C 1129.16,141.40 1125.40,137.20 1125.40,131.85 C 1125.40,126.50 1129.16,122.30 1133.95,122.30 C 1138.74,122.30 1142.50,126.50 1142.50,131.85 Z"/>
<path d="M 1165.70,131.85 C 1165.70,137.20 1161.85,141.40 1156.95,141.40 C 1152.05,141.40 1148.20,137.20 1148.20,131.85 C 1148.20,126.50 1152.05,122.30 1156.95,122.30 C 1161.85,122.30 1165.70,126.50 1165.70,131.85 Z"/>
<path d="M 362.05,650.03 C 364.75,647.36 367.59,647.00 369.72,647.00 C 373.27,647.00 374.69,648.78 374.26,650.56 C 373.70,652.70 371.42,653.76 369.15,654.48 L 364.04,655.54 M 369.15,654.48 C 373.27,654.83 375.40,656.97 375.40,659.82 C 375.40,663.02 372.28,664.80 368.30,664.80 C 364.75,664.80 362.34,663.38 361.20,661.60"/>
<path d="M 397.70,655.90 C 397.70,660.88 394.20,664.80 389.75,664.80 C 385.30,664.80 381.80,660.88 381.80,655.90 C 381.80,650.92 385.30,647.00 389.75,647.00 C 394.20,647.00 397.70,650.92 397.70,655.90 Z"/>
<path d="M 418.00,655.90 C 418.00,660.88 414.50,664.80 410.05,664.80 C 405.60,664.80 402.10,660.88 402.10,655.90 C 402.10,650.92 405.60,647.00 410.05,647.00 C 414.50,647.00 418.00,650.92 418.00,655.90 Z"/>
<path d="M 918.75,617.94 C 921.45,615.26 924.29,614.90 926.42,614.90 C 929.97,614.90 931.39,616.69 930.96,618.48 C 930.40,620.63 928.12,621.70 925.85,622.42 L 920.74,623.49 M 925.85,622.42 C 929.97,622.78 932.10,624.92 932.10,627.79 C 932.10,631.01 928.98,632.80 925.00,632.80 C 921.45,632.80 919.04,631.37 917.90,629.58"/>
<path d="M 954.40,623.85 C 954.40,628.86 950.90,632.80 946.45,632.80 C 942.00,632.80 938.50,628.86 938.50,623.85 C 938.50,618.84 942.00,614.90 946.45,614.90 C 950.90,614.90 954.40,618.84 954.40,623.85 Z"/>
<path d="M 974.70,623.85 C 974.70,628.86 971.20,632.80 966.75,632.80 C 962.30,632.80 958.80,628.86 958.80,623.85 C 958.80,618.84 962.30,614.90 966.75,614.90 C 971.20,614.90 974.70,618.84 974.70,623.85 Z"/>
<path d="M 61.10,365.80 L 69.42,348.20 L 77.73,365.80 M 80.90,365.80 L 80.90,348.20"/>
<path d="M59.7,332.0 L81.0,332.0 L81.9,332.9"/>
<path d="M 65.90,316.26 C 62.36,315.22 60.70,312.26 60.70,308.56 C 60.70,304.86 62.78,302.34 66.52,302.34 C 72.14,302.34 76.30,312.26 81.08,316.70 L 81.08,301.90"/>
<path d="M 71.10,279.00 C 76.92,279.00 81.50,282.87 81.50,287.80 C 81.50,292.73 76.92,296.60 71.10,296.60 C 65.28,296.60 60.70,292.73 60.70,287.80 C 60.70,282.87 65.28,279.00 71.10,279.00 Z"/>
<path d="M 71.10,256.10 C 76.92,256.10 81.50,259.97 81.50,264.90 C 81.50,269.83 76.92,273.70 71.10,273.70 C 65.28,273.70 60.70,269.83 60.70,264.90 C 60.70,259.97 65.28,256.10 71.10,256.10 Z"/>
<path d="M 1088.50,658.67 C 1088.50,654.78 1090.31,653.09 1092.12,653.93 C 1094.29,654.78 1095.02,658.16 1095.02,660.69 C 1095.02,663.23 1093.57,664.07 1091.76,663.57 C 1089.95,662.89 1088.50,661.20 1088.50,658.67 Z M 1095.02,660.69 C 1095.38,654.78 1097.55,651.40 1101.17,651.40 C 1104.79,651.40 1106.60,655.62 1106.60,659.85 C 1106.60,664.92 1104.79,668.30 1101.53,668.30 C 1097.55,668.30 1095.38,664.07 1095.02,660.69 Z"/>
<path d="M 1088.50,634.58 L 1088.86,645.63 L 1096.64,646.65 C 1095.02,644.36 1094.47,642.07 1094.47,640.30 C 1094.47,636.49 1097.55,634.20 1100.45,634.20 C 1104.07,634.20 1106.60,636.99 1106.60,640.80 C 1106.60,643.34 1105.88,645.63 1104.43,646.90"/>
<path d="M 1097.55,611.10 C 1102.62,611.10 1106.60,614.53 1106.60,618.90 C 1106.60,623.27 1102.62,626.70 1097.55,626.70 C 1092.48,626.70 1088.50,623.27 1088.50,618.90 C 1088.50,614.53 1092.48,611.10 1097.55,611.10 Z"/>
<line x1="1100.9" y1="605.8" x2="1100.9" y2="599.8"/>
<path d="M 1092.84,579.30 C 1095.20,579.30 1097.19,582.45 1097.19,586.45 C 1097.19,590.45 1095.20,593.60 1092.84,593.60 C 1090.49,593.60 1088.50,590.45 1088.50,586.45 C 1088.50,582.45 1090.49,579.30 1092.84,579.30 C 1099.36,579.30 1106.60,582.16 1106.60,587.88 C 1106.60,590.74 1104.79,592.88 1102.98,593.60"/>
<path d="M 1097.55,559.20 C 1102.62,559.20 1106.60,562.65 1106.60,567.05 C 1106.60,571.45 1102.62,574.90 1097.55,574.90 C 1092.48,574.90 1088.50,571.45 1088.50,567.05 C 1088.50,562.65 1092.48,559.20 1097.55,559.20 Z"/>
<path d="M 1097.55,537.70 C 1102.62,537.70 1106.60,541.26 1106.60,545.80 C 1106.60,550.34 1102.62,553.90 1097.55,553.90 C 1092.48,553.90 1088.50,550.34 1088.50,545.80 C 1088.50,541.26 1092.48,537.70 1097.55,537.70 Z"/>
</g>
</svg>
</body></html>
